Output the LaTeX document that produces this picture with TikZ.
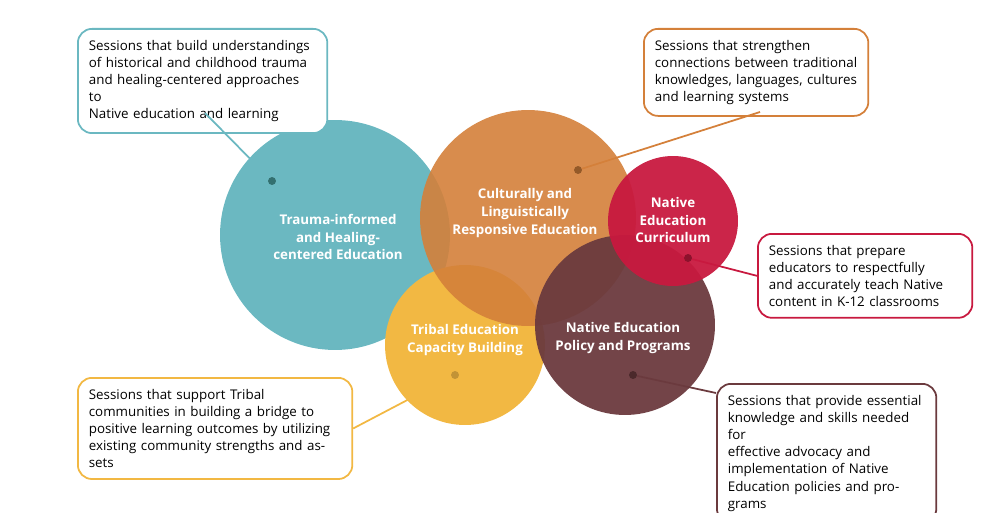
\documentclass[tikz,border=0pt]{standalone}
\usepackage{fontspec}
\setmainfont{Open Sans}
\definecolor{teal1}{HTML}{6BB8C1}
\definecolor{gold1}{HTML}{F2B843}
\definecolor{orange1}{HTML}{D4803A}
\definecolor{maroon1}{HTML}{6B3A3E}
\definecolor{red1}{HTML}{C8193F}
\begin{document}
\begin{tikzpicture}[x=0.02cm,y=-0.02cm,
  bubble/.style={circle,inner sep=0pt,text=white,align=center,font=\fontsize{7.6}{10.2}\selectfont\bfseries},
  note/.style={draw,line width=1pt,rounded corners=8pt,fill=white,anchor=north west,align=left,
    text width=4.55cm,inner sep=0.22cm,font=\fontsize{7.6}{9.8}\selectfont},
  link/.style={line width=1pt},
  dot/.style={circle,fill,inner sep=1.6pt}]
\useasboundingbox (0,0) rectangle (1000,513);

%circles
\node [bubble,fill=teal1,minimum size=4.6cm] (trauma) at(335,235){};
\node [bubble,fill=gold1,minimum size=3.2cm] (tribal) at(465,345){};
\node [bubble,fill=orange1,fill opacity=0.9,minimum size=4.32cm] (cult) at(528,218){};
\node [bubble,fill=maroon1,fill opacity=0.95,minimum size=3.6cm] (policy) at(625,325){};
\node [bubble,fill=red1,fill opacity=0.95,minimum size=2.6cm] (curr) at(673,221){};

\node [bubble] (traumat) at(338,237){Trauma-informed\\and Healing-\\centered Education};
\node [bubble] (tribalt) at(465,340){Tribal Education\\Capacity Building};
\node [bubble] (cultt) at(525,213){Culturally and\\Linguistically\\Responsive Education};
\node [bubble] (policyt) at(623,338){Native Education\\Policy and Programs};
\node [bubble] (currt) at(673,220){Native\\Education\\Curriculum};

%notes
\node [note,draw=teal1] (n1) at(77,28){Sessions that build understandings\\of historical and childhood trauma\\and healing-centered approaches to\\Native education and learning};
\node [note,draw=orange1,text width=4.05cm] (n2) at(643,28){Sessions that strengthen\\connections between traditional\\knowledges, languages, cultures\\and learning systems};
\node [note,draw=red1,text width=3.85cm] (n3) at(757,233){Sessions that prepare\\educators to respectfully\\and accurately teach Native\\content in K-12 classrooms};
\node [note,draw=gold1,text width=5.05cm] (n4) at(77,377){Sessions that support Tribal\\communities in building a bridge to\\positive learning outcomes by utilizing\\existing community strengths and assets};
\node [note,draw=maroon1,text width=3.95cm] (n5) at(716,383){Sessions that provide essential\\knowledge and skills needed for\\effective advocacy and\\implementation of Native\\Education policies and programs};

%links
\node [dot,teal!60!black!80] (d1) at(272,181){};
\node [dot,orange1!70!black] (d2) at(578,170){};
\node [dot,red1!70!black] (d3) at(688,258){};
\node [dot,gold1!80!black] (d4) at(455,375){};
\node [dot,maroon1!70!black] (d5) at(633,375){};
\draw[link,teal1] (205,113) -- (d1);
\draw[link,orange1] (760,112) -- (d2);
\draw[link,red1] (d3) -- (n3.west);
\draw[link,gold1] (d4) -- (n4.east);
\draw[link,maroon1] (d5) -- (716,393);
\end{tikzpicture}
\end{document}
